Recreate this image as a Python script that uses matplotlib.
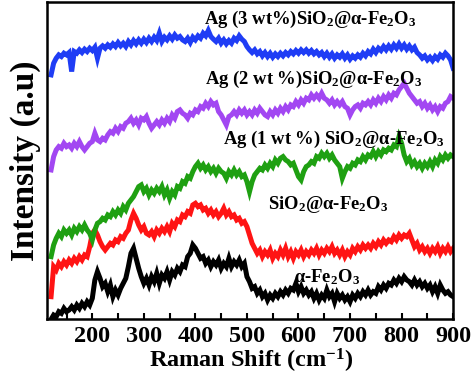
#!/usr/bin/env python3
"""
plot.py — Raman spectra of α-Fe2O3, SiO2@α-Fe2O3 and Ag-loaded samples
"""

import matplotlib
matplotlib.use('Agg')
import matplotlib.pyplot as plt
from matplotlib.ticker import MultipleLocator

# Raman shift (cm^-1), common grid for all spectra
shift = list(range(120, 901, 5))

# intensities (a.u.)
fe2o3 = [42, 55, 50, 65, 60, 75, 65, 70, 80, 70, 85, 75, 90, 80, 95, 85,
         105, 160, 185, 165, 140, 150, 125, 145, 110, 130, 115, 135, 150, 165,
         200, 240, 255, 225, 195, 170, 150, 165, 145, 170, 155, 180, 150, 175,
         165, 185, 160, 185, 175, 195, 185, 205, 200, 230, 240, 265, 255, 240,
         225, 230, 210, 220, 200, 215, 205, 220, 195, 210, 200, 225, 200, 215,
         205, 220, 200, 210, 170, 155, 135, 140, 120, 130, 110, 120, 100, 115,
         105, 120, 110, 125, 115, 130, 120, 135, 130, 150, 125, 140, 120, 130,
         115, 125, 105, 120, 100, 115, 105, 130, 110, 120, 95, 120, 105, 115,
         100, 110, 95, 115, 105, 120, 110, 125, 115, 130, 115, 125, 120, 140,
         130, 145, 135, 150, 145, 160, 150, 165, 155, 170, 160, 155, 145, 160,
         145, 155, 140, 150, 135, 145, 125, 140, 120, 145, 130, 120, 125, 115,
         110]

sio2_fe2o3 = [110, 200, 190, 210, 200, 215, 205, 220, 210, 225, 215, 230, 220,
              235, 230, 260, 300, 310, 295, 275, 260, 250, 260, 270, 265, 280,
              275, 290, 285, 300, 310, 340, 360, 345, 325, 310, 320, 300, 295,
              305, 290, 310, 300, 315, 305, 320, 305, 330, 320, 340, 335, 355,
              350, 365, 360, 385, 390, 380, 385, 370, 375, 360, 370, 355, 365,
              350, 360, 375, 355, 365, 350, 355, 340, 345, 330, 335, 320, 295,
              270, 255, 240, 250, 230, 245, 235, 250, 225, 240, 230, 250, 235,
              255, 230, 245, 225, 245, 235, 250, 230, 245, 235, 250, 240, 255,
              235, 250, 240, 255, 245, 260, 240, 250, 235, 250, 230, 245, 235,
              255, 245, 260, 250, 265, 255, 265, 255, 270, 260, 275, 265, 280,
              270, 280, 275, 290, 280, 295, 285, 295, 290, 300, 280, 260, 270,
              250, 260, 245, 255, 240, 255, 245, 260, 240, 255, 245, 260, 245,
              255]

ag1 = [230, 265, 285, 300, 290, 310, 300, 310, 295, 315, 305, 320, 310, 325,
       310, 300, 280, 310, 330, 335, 345, 340, 355, 350, 365, 355, 370, 360,
       380, 370, 390, 400, 410, 425, 440, 445, 425, 435, 415, 430, 420, 435,
       425, 440, 415, 430, 405, 425, 415, 440, 435, 455, 450, 470, 465, 485,
       500, 510, 495, 505, 490, 500, 485, 495, 480, 495, 485, 480, 465, 485,
       475, 490, 475, 485, 470, 475, 455, 425, 455, 475, 485, 495, 490, 505,
       495, 510, 500, 520, 510, 525, 530, 520, 515, 505, 510, 490, 470, 460,
       485, 500, 505, 515, 510, 530, 525, 540, 530, 540, 525, 535, 520, 510,
       500, 465, 485, 500, 495, 510, 505, 520, 515, 530, 520, 535, 530, 545,
       530, 545, 535, 550, 545, 555, 550, 565, 560, 590, 570, 535, 515, 525,
       505, 515, 500, 510, 495, 510, 500, 515, 500, 520, 510, 530, 520, 535,
       525, 535, 530]

ag2 = [490, 530, 550, 560, 555, 570, 560, 565, 555, 570, 560, 575, 560, 550,
       560, 570, 575, 600, 580, 575, 585, 580, 595, 605, 600, 615, 605, 620,
       615, 630, 635, 645, 630, 640, 625, 645, 640, 650, 630, 615, 625, 635,
       625, 640, 630, 645, 635, 655, 645, 665, 670, 660, 655, 645, 660, 655,
       670, 665, 680, 675, 690, 680, 695, 685, 690, 665, 655, 640, 625, 650,
       655, 665, 655, 670, 660, 670, 655, 665, 655, 670, 660, 675, 665, 655,
       650, 665, 655, 670, 660, 675, 665, 680, 670, 685, 680, 695, 685, 700,
       690, 705, 700, 715, 705, 715, 705, 720, 705, 700, 690, 700, 685, 695,
       685, 695, 680, 675, 655, 670, 680, 685, 675, 690, 685, 695, 685, 700,
       690, 705, 695, 710, 700, 715, 705, 720, 715, 730, 740, 750, 735, 720,
       710, 700, 690, 695, 680, 690, 675, 685, 670, 680, 665, 680, 675, 690,
       695, 710, 705]

ag3 = [775, 810, 825, 835, 830, 840, 835, 842, 785, 845, 840, 850, 842, 852,
       845, 855, 848, 858, 825, 855, 862, 855, 865, 858, 868, 860, 872, 862,
       870, 860, 875, 865, 878, 868, 880, 870, 882, 872, 885, 875, 888, 878,
       900, 875, 888, 880, 892, 882, 895, 885, 890, 880, 875, 885, 872, 888,
       880, 892, 885, 900, 892, 908, 890, 882, 875, 885, 870, 880, 868, 878,
       870, 885, 878, 892, 882, 875, 860, 850, 842, 850, 838, 845, 832, 842,
       830, 840, 828, 838, 830, 840, 832, 842, 835, 845, 838, 848, 840, 850,
       842, 850, 840, 848, 838, 845, 835, 842, 830, 840, 828, 838, 825, 835,
       828, 838, 825, 835, 822, 832, 825, 835, 828, 840, 832, 845, 838, 852,
       842, 855, 848, 860, 850, 862, 852, 865, 855, 868, 855, 865, 852, 862,
       850, 858, 842, 835, 825, 832, 820, 828, 818, 830, 822, 835, 828, 840,
       832, 820, 795]

SERIES = [
    (fe2o3, '#000000'),
    (sio2_fe2o3, '#ff1414'),
    (ag1, '#1fa012'),
    (ag2, '#a247f2'),
    (ag3, '#1f3df5'),
]

LABELS = [
    ('Ag (3 wt%)SiO$_2$@α-Fe$_2$O$_3$', 623, 940),
    ('Ag (2 wt %)SiO$_2$@α-Fe$_2$O$_3$', 630, 760),
    ('Ag (1 wt %) SiO$_2$@α-Fe$_2$O$_3$', 668, 580),
    ('SiO$_2$@α-Fe$_2$O$_3$', 658, 385),
    ('α-Fe$_2$O$_3$', 655, 170),
]

plt.rcParams['font.family'] = 'Liberation Serif'
plt.rcParams['font.weight'] = 'bold'
plt.rcParams['mathtext.fontset'] = 'custom'
plt.rcParams['mathtext.rm'] = 'Liberation Serif:bold'
plt.rcParams['mathtext.it'] = 'Liberation Serif:bold'
plt.rcParams['mathtext.bf'] = 'Liberation Serif:bold'


def main():
    fig = plt.figure(figsize=(4.74, 3.78), dpi=100)
    ax = fig.add_axes([0.099, 0.156, 0.857, 0.84])

    for ys, color in SERIES:
        ax.plot(shift, ys, color=color, linewidth=3.6, solid_joinstyle='miter')

    for text, x, y in LABELS:
        ax.text(x, y, text, ha='center', va='center', fontsize=13.4,
                fontweight='bold')

    ax.set_xlim(112, 900)
    ax.set_ylim(43, 995)
    ax.xaxis.set_major_locator(MultipleLocator(100))
    ax.xaxis.set_minor_locator(MultipleLocator(50))
    ax.set_yticks([])
    ax.tick_params(axis='x', which='both', direction='in', length=4, width=1.5,
                   labelsize=17.5, pad=5)
    for sp in ax.spines.values():
        sp.set_linewidth(1.8)

    ax.set_xlabel('Raman Shift (cm$^{-1}$)', fontsize=17.5, fontweight='bold')
    ax.xaxis.set_label_coords(0.502, -0.088)
    ax.set_ylabel('Intensity (a.u)', fontsize=24, fontweight='bold',
                  labelpad=4)

    fig.savefig('out.png', dpi=100)
    plt.close(fig)


if __name__ == '__main__':
    main()
